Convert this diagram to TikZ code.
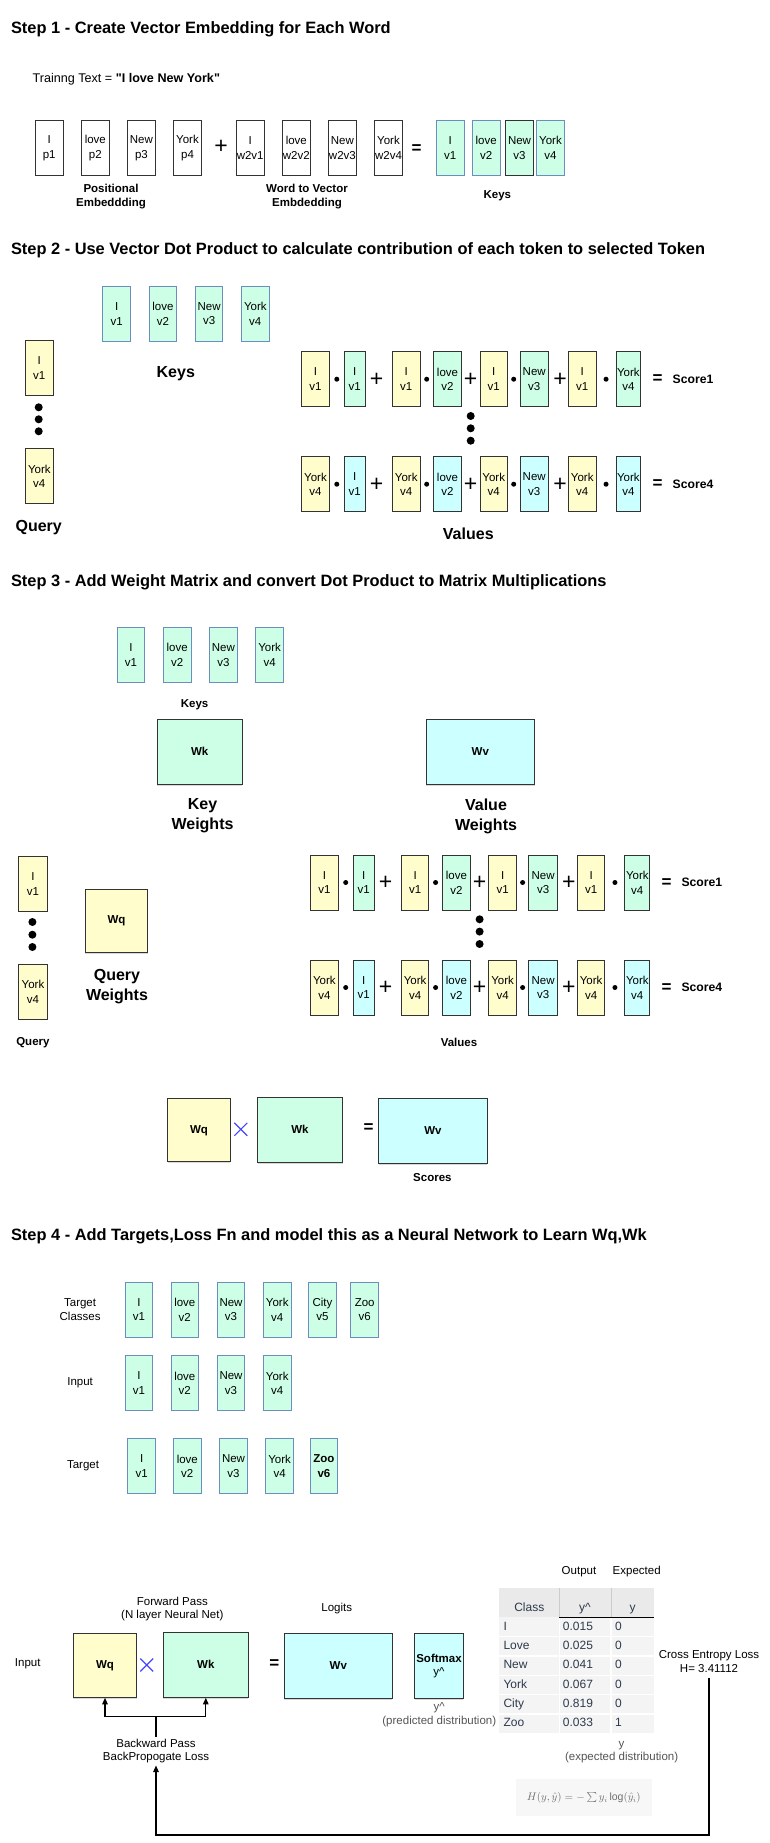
\documentclass[tikz,border=0pt]{standalone}
\usepackage{fontspec}
\setmainfont{Liberation Sans}
\usetikzlibrary{arrows.meta,shapes.misc,shadows}

\definecolor{qyellow}{RGB}{255,253,204}
\definecolor{kgreen}{RGB}{204,255,230}
\definecolor{vcyan}{RGB}{204,255,255}
\definecolor{kblue}{RGB}{108,142,191}
\definecolor{edge}{RGB}{51,51,51}
\definecolor{xblue}{RGB}{70,70,255}
\definecolor{tabtext}{RGB}{45,58,75}
\definecolor{headgray}{RGB}{234,234,234}
\definecolor{rowgray}{RGB}{244,244,244}
\definecolor{notegray}{RGB}{85,85,85}
\definecolor{formgray}{RGB}{110,110,110}

\newcommand\tokfont{\fontsize{11.5}{14.7}\selectfont}
\newcommand\headfont{\fontsize{16.4}{20}\selectfont\bfseries}
\newcommand\bigfont{\fontsize{16}{20}\selectfont\bfseries}
\newcommand\lblfont{\fontsize{11.5}{13.5}\selectfont}
\newcommand\plusfont{\fontsize{23}{23}\selectfont}
\newcommand\eqfont{\fontsize{17}{17}\selectfont\bfseries}

\begin{document}
\begin{tikzpicture}[x=1pt, y=-1pt,
    every node/.style = {inner sep=1pt, font=\lblfont},
    tok/.style = {draw=edge, line width=1pt, minimum width=27.6pt,
      minimum height=55pt, inner sep=0pt, align=center, font=\tokfont},
    wbox/.style = {tok, fill=white},
    qbox/.style = {tok, fill=qyellow},
    kbox/.style = {tok, fill=kgreen, draw=kblue},
    gbox/.style = {tok, fill=kgreen},
    cbox/.style = {tok, fill=vcyan},
    matbox/.style = {draw=edge, line width=1pt, inner sep=0pt,
      font=\lblfont\bfseries,
      drop shadow={shadow xshift=0pt, shadow yshift=-1.5pt, opacity=.3}},
    steptitle/.style = {anchor=west, inner sep=0pt, font=\headfont},
    biglbl/.style = {align=center, font=\bigfont},
    boldlbl/.style = {align=center, font=\lblfont\bfseries},
    scorelbl/.style = {font=\fontsize{12.2}{14}\selectfont\bfseries},
    smalllbl/.style = {align=center},
    notelbl/.style = {align=center, text=notegray},
    tabtxt/.style = {font=\fontsize{12}{14}\selectfont, text=tabtext,
      text height=8.6pt, text depth=2.4pt},
    plussign/.style = {inner sep=0pt, font=\plusfont},
    eqsign/.style = {inner sep=0pt, font=\eqfont},
    mulpt/.style = {circle, fill, inner sep=0pt, minimum size=5pt},
    ellpt/.style = {mulpt, minimum size=8pt},
    xsign/.style = {cross out, draw=xblue, line width=1.2pt, inner sep=0pt,
      minimum size=11.7pt},
    fbarrow/.style = {-{Triangle[length=6.5pt,width=5.5pt]}, line width=1.1pt}]

  \fill[white] (0,0) rectangle (770,1843);
  \useasboundingbox (0,0) rectangle (770,1843);

  % step 1
  \node[steptitle] (t1) at (10.8,29.3) {Step 1 - Create Vector Embedding for Each Word};
  \node[anchor=west, font=\fontsize{12.6}{15}\selectfont] (train) at (31.4,79)
    {Trainng Text = \textbf{\textquotedbl I love New York\textquotedbl}};
  \foreach \tw [count=\i] in {I,love,New,York} {
    \node[wbox] (pos\i) at ({49.2+46.1*(\i-1)},148) {\tw\\p\i};
    \node[wbox] (wtv\i) at ({250.2+46.1*(\i-1)},148) {\tw\\w2v\i};
  }
  \node[plussign] (plus1) at (221.1,147) {+};
  \node[eqsign] (eq1) at (416.7,149) {=};
  \foreach \tw/\vn/\x/\c in {I/v1/450.2/kblue, love/v2/486.2/kblue,
      New/v3/519.5/edge, York/v4/550.5/kblue}
    \node[kbox, draw=\c] (key\vn) at (\x,148) {\tw\\\vn};
  \node[boldlbl] (posl) at (111,196.7) {Positional\\Embeddding};
  \node[boldlbl] (wtvl) at (307,196.7) {Word to Vector\\Embdedding};
  \node[boldlbl] (keysl1) at (497.3,196) {Keys};

  % step 2
  \node[steptitle] (t2) at (10.8,250.7)
    {Step 2 - Use Vector Dot Product to calculate contribution of each token to selected Token};
  \foreach \s/\x/\y in {2/116.7/313.7, 3/131/654.8}
    \foreach \tw/\vn [count=\i] in {I/v1,love/v2,New/v3,York/v4}
      \node[kbox] (kr\s-\i) at ({\x+46.2*(\i-1)},\y) {\tw\\\vn};
  \node[biglbl] (keysl2) at (175.8,373.3) {Keys};
  \node[qbox] (q2a) at (39.3,368.3) {I\\v1};
  \node[qbox] (q2b) at (39.3,476.2) {York\\v4};
  \foreach \y [count=\j] in {407.3,419.3,431.3}
    \node[ellpt] (qd2-\j) at (38.7,\y) {};
  \node[biglbl] (queryl2) at (38.7,527.3) {Query};

  % value rows, step 2 and step 3
  \foreach \s/\dx/\dy in {2/0/0, 3/8.9/503.3} {
    \begin{scope}[shift={(\dx,\dy)}, name prefix=s\s-]
      \foreach \xa/\wa/\xb/\wb/\tw/\vn [count=\i] in {315.5/27.6/354.8/21/I/v1,
          406.2/27.7/447.5/28.4/love/v2, 493.7/27.3/534.2/28.3/New/v3,
          582.2/27.7/628.4/24.7/York/v4} {
        \node[qbox, minimum width=\wa pt] (qa\i) at (\xa,379.2) {I\\v1};
        \node[gbox, minimum width=\wb pt] (ka\i) at (\xb,379.2) {\tw\\\vn};
        \node[mulpt] (ma\i) at ({(\xa+\wa/2+\xb-\wb/2)/2},379.2) {};
        \node[qbox, minimum width=\wa pt] (qb\i) at (\xa,484.2) {York\\v4};
        \node[cbox, minimum width=\wb pt] (kb\i) at (\xb,484.2) {\tw\\\vn};
        \node[mulpt] (mb\i) at ({(\xa+\wa/2+\xb-\wb/2)/2},484.2) {};
      }
      \foreach \x [count=\j] in {376.7,470.7,560} {
        \node[plussign] (pa\j) at (\x,380) {+};
        \node[plussign] (pb\j) at (\x,485) {+};
      }
      \node[eqsign] (ea) at (657.7,379.5) {=};
      \node[scorelbl] (sa) at (693,379.2) {Score1};
      \node[eqsign] (eb) at (657.7,484.5) {=};
      \node[scorelbl] (sb) at (693,484.2) {Score4};
      \foreach \y [count=\j] in {416,428.3,440.7}
        \node[ellpt] (vd\j) at (470.7,\y) {};
    \end{scope}
  }
  \node[biglbl] (valuesl2) at (468.3,533.3) {Values};

  % step 3
  \node[steptitle] (t3) at (10.8,582.7)
    {Step 3 - Add Weight Matrix and convert Dot Product to Matrix Multiplications};
  \node[boldlbl] (keysl3) at (194.6,705) {Keys};
  \node[matbox, fill=kgreen, minimum width=85.1pt, minimum height=64.7pt] (wk3) at (199.75,751.65) {Wk};
  \node[matbox, fill=vcyan, minimum width=108.6pt, minimum height=64.7pt] (wv3) at (480.3,751.65) {Wv};
  \node[biglbl] (kwl) at (202.5,816) {Key\\Weights};
  \node[biglbl] (vwl) at (486,816) {Value\\Weights};
  \node[qbox, minimum width=28.5pt] (q3a) at (33,883.9) {I\\v1};
  \node[qbox, minimum width=28.5pt] (q3b) at (33,992) {York\\v4};
  \foreach \y [count=\j] in {922,934.7,947}
    \node[ellpt] (qd3-\j) at (32.4,\y) {};
  \node[boldlbl] (queryl3) at (32.9,1042.3) {Query};
  \node[matbox, fill=qyellow, minimum width=62.9pt, minimum height=63.4pt] (wq3) at (116.5,921) {Wq};
  \node[biglbl] (qwl) at (117,986.3) {Query\\Weights};
  \node[boldlbl] (valuesl3) at (459,1042.3) {Values};
  \node[matbox, fill=qyellow, minimum width=62.9pt, minimum height=63.3pt] (wqs) at (199,1130.3) {Wq};
  \node[xsign] (xs) at (240.8,1129.3) {};
  \node[matbox, fill=kgreen, minimum width=85pt, minimum height=64.7pt] (wks) at (300,1129.7) {Wk};
  \node[eqsign] (eqs) at (368.6,1128) {=};
  \node[matbox, fill=vcyan, minimum width=108.1pt, minimum height=64.6pt] (wvs) at (433,1131) {Wv};
  \node[boldlbl] (scoresl) at (432.4,1177.3) {Scores};

  % step 4
  \node[steptitle] (t4) at (10.8,1236.7)
    {Step 4 - Add Targets,Loss Fn and model this as a Neural Network to Learn Wq,Wk};
  \node[smalllbl] (tcl) at (80.1,1309.5) {Target\\Classes};
  \foreach \tw/\vn/\x [count=\i] in {I/v1/139, love/v2/184.8, New/v3/231,
      York/v4/277.2, City/v5/322.4, Zoo/v6/364.7} {
    \node[kbox] (tc\i) at (\x,1309.5) {\tw\\\vn};
    \ifnum\i<5 \node[kbox] (in\i) at (\x,1383.3) {\tw\\\vn}; \fi
  }
  \node[smalllbl] (inl) at (80.1,1382.7) {Input};
  \node[smalllbl] (tgl) at (83,1465.7) {Target};
  \foreach \tw/\vn/\x [count=\i] in {I/v1/141.6, love/v2/187.3, New/v3/233.5,
      York/v4/279.6, \textbf{Zoo}/\textbf{v6}/323.9}
    \node[kbox] (tg\i) at (\x,1466.3) {\tw\\\vn};

  % network
  \node[smalllbl] (inpl) at (27.7,1664) {Input};
  \node[matbox, fill=qyellow, minimum width=63.4pt, minimum height=64pt] (wq4) at (105,1665.3) {Wq};
  \node[xsign] (x4) at (146.7,1665) {};
  \node[matbox, fill=kgreen, minimum width=85pt, minimum height=65pt] (wk4) at (205.8,1664.8) {Wk};
  \node[eqsign] (eq4) at (274.3,1664) {=};
  \node[matbox, fill=vcyan, minimum width=108pt, minimum height=65pt] (wv4) at (338.3,1665.8) {Wv};
  \node[matbox, fill=vcyan, minimum width=48.6pt, minimum height=65pt, align=center,
    font=\lblfont] (soft) at (439,1665.8) {\textbf{Softmax}\\y\textasciicircum};
  \node[smalllbl] (fwdl) at (172.3,1609.2) {Forward Pass\\(N layer Neural Net)};
  \node[smalllbl] (logl) at (336.7,1609) {Logits};
  \node[notelbl] (predl) at (439.3,1714.7) {y\textasciicircum\\(predicted distribution)};

  % table
  \fill[headgray] (498.8,1588.3) rectangle (654,1617.3);
  \fill[rowgray] (498.8,1617.3) rectangle (654,1733.3);
  \foreach \k in {1,...,5}
    \draw[white, line width=1.5pt] (498.8,{1617.3+19.33*\k}) -- (654,{1617.3+19.33*\k});
  \foreach \x in {559.3,611} {
    \draw[white, line width=1.5pt] (\x,1617.3) -- (\x,1733.3);
    \draw[black!20] (\x,1588.3) -- (\x,1617.3);
  }
  \draw[line width=1.5pt] (559.3,1617.3) -- (654,1617.3);
  \node[tabtxt] (clsh) at (529.3,1608.3) {Class};
  \node[tabtxt] (outh) at (585,1608.3) {y\textasciicircum};
  \node[tabtxt] (exph) at (632.7,1608.3) {y};
  \foreach \cl/\ov/\ev [count=\r] in {I/0.015/0, Love/0.025/0, New/0.041/0,
      York/0.067/0, City/0.819/0, Zoo/0.033/1} {
    \pgfmathsetmacro\yr{1617.3+19.33*(\r-0.5)}
    \node[tabtxt, anchor=west, inner sep=0pt] (cls\r) at (503.3,\yr) {\cl};
    \node[tabtxt, anchor=west, inner sep=0pt] (out\r) at (562.7,\yr) {\ov};
    \node[tabtxt, anchor=west, inner sep=0pt] (exp\r) at (615,\yr) {\ev};
  }
  \node[smalllbl] (outl) at (579,1571.7) {Output};
  \node[smalllbl] (expl) at (636.7,1571.7) {Expected};
  \node[notelbl] (expd) at (621.6,1751.9) {y\\(expected distribution)};
  \node[fill=black!3, minimum width=136.5pt, minimum height=36.7pt, text=formgray,
    font=\fontsize{10.5}{12}\selectfont] (hform) at (583.75,1797.65)
    {$H(y,\hat{y}) = -\sum y_i\log(\hat{y}_i)$};
  \node[smalllbl, inner sep=5pt] (cel) at (709,1661.7) {Cross Entropy Loss\\H= 3.41112};
  \node[smalllbl, inner sep=2pt] (bwd) at (156,1751.2) {Backward Pass\\BackPropogate Loss};

  % loss goes back
  \coordinate (fbot) at (0,1835);
  \draw[fbarrow] (cel.south) -- (cel.south |- fbot) -| (bwd.south);
  \draw[fbarrow] (bwd.north) -- ++(0,-20) -| (wq4.south);
  \draw[fbarrow] (bwd.north) -- ++(0,-20) -| (wk4.south);
\end{tikzpicture}
\end{document}
